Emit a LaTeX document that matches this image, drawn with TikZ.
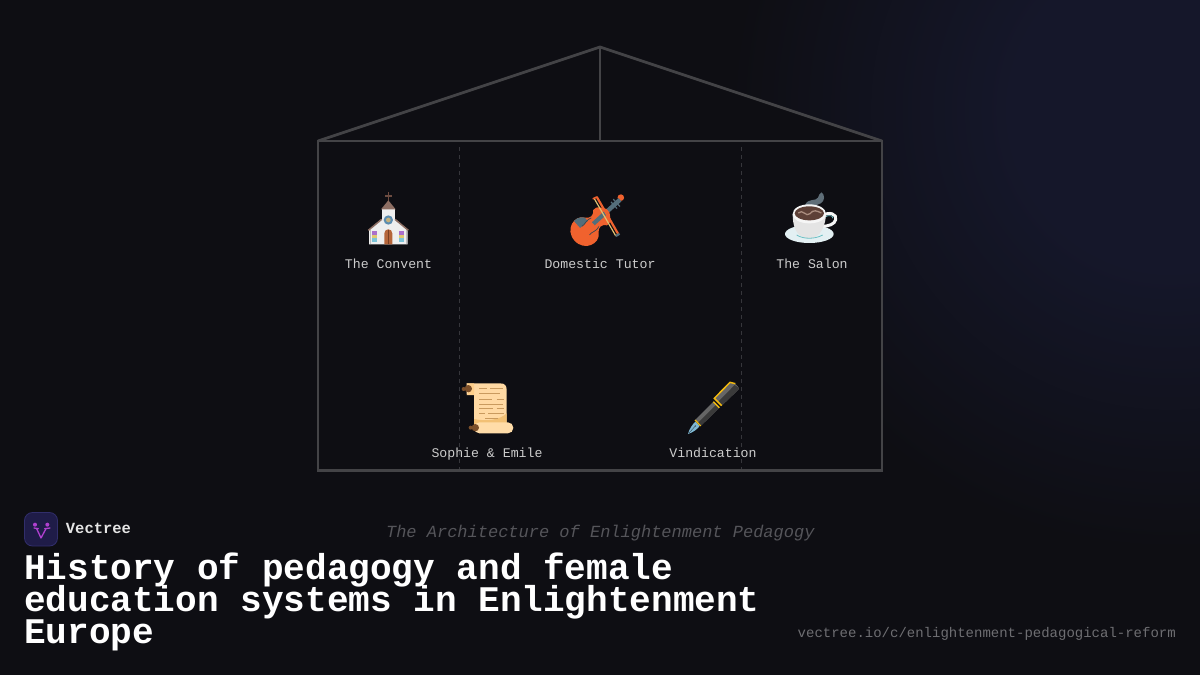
\documentclass[tikz,border=0pt]{standalone}
\usepackage{fontspec}
\setmainfont{Liberation Sans}
\setmonofont{Liberation Mono}
\definecolor{bgbase}{HTML}{0E0E13}
\definecolor{bgglow}{HTML}{15172A}
\definecolor{wallc}{HTML}{434346}
\definecolor{dashc}{HTML}{36363B}
\definecolor{labelc}{HTML}{CCCCCC}
\definecolor{brandc}{HTML}{E4E4E4}
\definecolor{subc}{HTML}{55555A}
\definecolor{urlc}{HTML}{6E6E72}
\definecolor{brownA}{HTML}{6D4C41}
\definecolor{brownB}{HTML}{8D6E63}
\definecolor{brownC}{HTML}{B5653A}
\definecolor{brownD}{HTML}{7B3F22}
\definecolor{brownE}{HTML}{7B4F2A}
\definecolor{whiteA}{HTML}{EEEEEE}
\definecolor{greyA}{HTML}{BDBDBD}
\definecolor{winBlue}{HTML}{5C8DB0}
\definecolor{winGold}{HTML}{C4B07C}
\definecolor{winPurple}{HTML}{AB6FCB}
\definecolor{winYellow}{HTML}{E0C96F}
\definecolor{winCyan}{HTML}{7CC4D8}
\definecolor{vOrange}{HTML}{F0622E}
\definecolor{vSlate}{HTML}{546E7A}
\definecolor{vDark}{HTML}{37474F}
\definecolor{vBow}{HTML}{E0C070}
\definecolor{steam}{HTML}{5F6E78}
\definecolor{saucer}{HTML}{E3F0F3}
\definecolor{cupA}{HTML}{E4E4E4}
\definecolor{cupB}{HTML}{F6F6F6}
\definecolor{coffee}{HTML}{5D4037}
\definecolor{crema}{HTML}{A98C7E}
\definecolor{teal}{HTML}{6FC0C4}
\definecolor{scrollA}{HTML}{FFD9A3}
\definecolor{scrollB}{HTML}{F2C074}
\definecolor{scrollC}{HTML}{FFCF8A}
\definecolor{scrollD}{HTML}{FFDCA8}
\definecolor{scrollLine}{HTML}{C99A5E}
\definecolor{penA}{HTML}{666666}
\definecolor{penB}{HTML}{3A3A3A}
\definecolor{penGold}{HTML}{F2B90F}
\definecolor{nib}{HTML}{7FB8D4}
\definecolor{logoFill}{HTML}{1F1C48}
\definecolor{logoEdge}{HTML}{312E6B}
\definecolor{logoMark}{HTML}{B040D0}
\pgfdeclareradialshading{glow}{\pgfpoint{0bp}{0bp}}{color(0bp)=(bgglow); color(9bp)=(bgglow); color(25bp)=(bgbase); color(50bp)=(bgbase)}
\tikzset{
  wall/.style={draw=wallc,line width=2.7pt,line join=miter},
  divider/.style={draw=dashc,line width=1pt,dash pattern=on 4pt off 4pt},
  zonelabel/.style={font=\fontsize{13.2}{13.2}\selectfont\ttfamily,text=labelc,inner sep=0pt,anchor=base},
  titleline/.style={font=\fontsize{36.05}{36}\selectfont\ttfamily\bfseries,text=white,inner sep=0pt,anchor=base west},
  icon/.style={x=.3333pt,y=-.3333pt},
}
\begin{document}
\begin{tikzpicture}[x=1pt,y=-1pt]
\useasboundingbox (0,0) rectangle (1200,675);
\fill[bgbase] (0,0) rectangle (1200,675);
\begin{scope}
\clip (0,0) rectangle (1200,675);
\shade[shading=glow] (1170,110) circle (440);
\end{scope}
% house
\coordinate (eaveL) at (318,141);
\coordinate (eaveR) at (882,141);
\coordinate (apex) at (600,47);
\coordinate (footL) at (318,470.5);
\coordinate (footR) at (882,470.5);
\coordinate (ridgeFoot) at (600,141);
\coordinate (d1t) at (459,147);
\coordinate (d1b) at (459,470);
\coordinate (d2t) at (741,147);
\coordinate (d2b) at (741,470);
\fill[bgbase] (eaveL) -- (apex) -- (eaveR) -- (footR) -- (footL) -- cycle;
\draw[divider] (d1t) -- (d1b);
\draw[divider] (d2t) -- (d2b);
\draw[wall] (eaveL) -- (apex) -- (eaveR);
\draw[wall] (apex) -- (ridgeFoot);
\draw[wall] (eaveL) -- (eaveR) -- (footR) -- (footL) -- cycle;
% church
\begin{scope}[shift={(355,185)},icon]
\fill[brownA] (98,20) rectangle (102,48);
\fill[brownA] (90,31) rectangle (110,35);
\fill[whiteA] (80,72) rectangle (120,178);
\fill[whiteA] (42,135) -- (80,102) -- (120,102) -- (158,135) -- (158,178) -- (42,178) -- cycle;
\fill[brownB] (100,46) -- (122,73) -- (78,73) -- cycle;
\draw[brownB,line width=1.5pt] (40,136) -- (80,103);
\draw[brownB,line width=1.5pt] (160,136) -- (120,103);
\draw[greyA,line width=.7pt] (45,178) -- (45,136);
\draw[greyA,line width=.7pt] (155,178) -- (155,136);
\fill[winBlue] (100,105) circle[radius=14];
\fill[winGold] (100,105) circle[radius=7];
\fill[brownC] (88,178) -- (88,145) .. controls (88,129) and (112,129) .. (112,145) -- (112,178) -- cycle;
\draw[brownD,line width=.5pt] (100,134) -- (100,178);
\foreach \wx in {52,133}{
  \fill[winPurple] (\wx,138) rectangle ++(14,12);
  \fill[winYellow] (\wx,150) rectangle ++(14,10);
  \fill[winCyan] (\wx,160) rectangle ++(14,12);
}
\end{scope}
% violin
\begin{scope}[shift={(592.5,224.5)},rotate=-48]
\fill[vOrange] (-1,-39) circle (3.3);
\fill[vSlate] (-2.2,-37) rectangle (2.2,-15);
\fill[vSlate] (-5,-33) rectangle (5,-31.8);
\fill[vSlate] (-4.5,-29.5) rectangle (4.5,-28.3);
\begin{scope}[scale=1.15]
\path[fill=vOrange] (-9,-9) .. controls (-10,-14) and (-5,-16) .. (-2,-18) -- (2,-18) .. controls (5,-16) and (10,-14) .. (9,-9)
 .. controls (5,-6) and (5,-2) .. (9,1) .. controls (17,6) and (13,21) .. (0,21) .. controls (-13,21) and (-17,6) .. (-9,1) .. controls (-5,-2) and (-5,-6) .. (-9,-9) -- cycle;
\begin{scope}
\clip (-9,1) .. controls (-17,6) and (-13,21) .. (0,21) -- (-5,12) -- (-5,1) -- cycle;
\fill[vSlate] (-18,0) rectangle (-5,10);
\end{scope}
\fill[vSlate] (-1.8,-16) rectangle (1.8,-1);
\draw[vDark,line width=.7pt] (-5,-3) .. controls (-7,1) and (-4,5) .. (-5,8);
\draw[vDark,line width=.7pt] (5,-3) .. controls (7,1) and (4,5) .. (5,8);
\end{scope}
\end{scope}
\coordinate (bowA) at (596.8,197);
\coordinate (bowB) at (618.5,234.5);
\coordinate (bowC) at (594.2,198.5);
\coordinate (bowD) at (615.8,236);
\draw[vOrange,line width=2.2pt] (bowA) -- (bowB);
\draw[vBow,line width=1.2pt] (bowC) -- (bowD);
\draw[vOrange,line width=1.7pt,line cap=round] (593.2,198.7) -- (bowA);
\draw[vSlate,line width=2.2pt] (bowD) -- (619.5,233.8);
% cup
\begin{scope}[shift={(780,185)},icon]
\fill[steam] (75,60) .. controls (85,38) and (108,50) .. (114,38) .. controls (116,30) and (118,28) .. (125,22) .. controls (135,30) and (135,48) .. (122,55) .. controls (105,64) and (85,68) .. (75,60) -- cycle;
\fill[saucer] (88,147) ellipse (73 and 27);
\draw[cupB,line width=3pt] (128,92) .. controls (148,78) and (172,88) .. (167,104) .. controls (164,118) and (145,124) .. (125,124);
\draw[teal,line width=.7pt] (135,96) .. controls (148,88) and (160,92) .. (158,100);
\fill[cupA] (38,87) .. controls (38,115) and (44,160) .. (88,160) .. controls (125,160) and (137,115) .. (138,87) -- cycle;
\fill[cupB] (38,87) .. controls (38,70) and (60,58) .. (88,58) .. controls (116,58) and (138,70) .. (138,87) .. controls (138,104) and (116,115) .. (88,115) .. controls (60,115) and (38,104) .. (38,87) -- cycle;
\fill[coffee] (88,85) ellipse (44 and 21);
\draw[crema,line width=1.3pt] (55,84) .. controls (68,70) and (78,98) .. (90,86) .. controls (100,72) and (112,78) .. (124,84);
\draw[teal,line width=.8pt] (50,150) .. controls (70,163) and (105,163) .. (128,150);
\end{scope}
% scroll
\begin{scope}[shift={(450,375)},icon]
\fill[scrollA] (50,25) -- (150,25) .. controls (165,25) and (170,32) .. (170,45) -- (170,150) -- (72,150) -- (72,58) -- (50,58) -- cycle;
\fill[scrollB] (72,132) .. controls (110,140) and (150,135) .. (170,115) -- (170,150) -- (72,150) -- cycle;
\fill[scrollC] (50,25) -- (72,25) -- (72,60) -- (50,60) .. controls (60,50) and (60,35) .. (50,25) -- cycle;
\fill[brownE] (55,41) circle[radius=11];
\fill[brownE] (41,42) circle[radius=6];
\fill[scrollD,rounded corners=5.4pt] (72,142) rectangle (190,175);
\fill[brownE] (76,158) circle[radius=11];
\fill[brownE] (62,158) circle[radius=6];
\foreach \ya/\xa/\xb in {40/88/110, 40/120/160, 56/88/150, 72/88/125, 72/140/162, 87/88/160, 100/88/130, 100/140/162, 116/88/105, 116/115/162, 130/105/145}
  \draw[scrollLine,line width=.9pt] (\xa,\ya) -- (\xb,\ya);
\end{scope}
% pen
\begin{scope}[shift={(680,375)},icon]
\fill[penA] (103,70) -- (150,22) .. controls (160,20) and (178,35) .. (177,42) -- (125,92) -- cycle;
\fill[penB] (114,81) -- (164,30) .. controls (170,35) and (178,38) .. (177,42) -- (125,92) -- cycle;
\fill[penA] (100,80) -- (118,98) -- (62,153) -- (45,135) -- cycle;
\fill[penB] (109,89) -- (118,98) -- (62,153) -- (53.5,144) -- cycle;
\draw[penGold,line width=1.5pt] (125,92) -- (103,70) -- (150,22) -- (166,26);
\draw[penGold,line width=1.3pt] (100,80) -- (118,98);
\draw[penGold,line width=1.3pt] (45,135) -- (62,153);
\fill[nib] (46,140) -- (59,153) .. controls (50,165) and (38,172) .. (24,177) .. controls (28,162) and (36,150) .. (46,140) -- cycle;
\draw[vDark,line width=.4pt] (28,173) -- (46,153);
\fill[vDark] (46,153) circle[radius=2];
\end{scope}
% labels
\node[zonelabel] (lConvent) at (388.5,268.5) {The Convent};
\node[zonelabel] (lTutor) at (600,268.5) {Domestic Tutor};
\node[zonelabel] (lSalon) at (812,268.5) {The Salon};
\node[zonelabel] (lSophie) at (487,457.5) {Sophie \& Emile};
\node[zonelabel] (lVind) at (713,457.5) {Vindication};
% logo
\fill[logoFill,draw=logoEdge,line width=.8pt,rounded corners=8pt] (24.5,512.5) rectangle (57.5,546);
\begin{scope}[shift={(20,508)},icon]
\draw[logoMark,line width=1.3pt,line join=round] (50,62) -- (63,90) -- (78,62);
\draw[logoMark,line width=1.3pt,line cap=round] (42,60) -- (55,62);
\draw[logoMark,line width=1.3pt,line cap=round] (74,62) -- (90,60);
\fill[logoMark] (45,50) circle[radius=6];
\fill[logoMark] (82,50) circle[radius=6];
\end{scope}
\node[inner sep=0pt,anchor=base west,text=brandc,font=\fontsize{15.5}{16}\selectfont\ttfamily\bfseries] (brand) at (65.7,533) {Vectree};
% caption and title
\node[inner sep=0pt,text=subc,font=\fontsize{17}{17}\selectfont\ttfamily\itshape] (sub) at (600.3,533.3) {The Architecture of Enlightenment Pedagogy};
\node[titleline] (t1) at (24,579) {History of pedagogy and female};
\node[titleline] (t2) at (24,611.4) {education systems in Enlightenment};
\node[titleline] (t3) at (24,643.8) {Europe};
\node[inner sep=0pt,anchor=base east,text=urlc,font=\fontsize{14}{14}\selectfont\ttfamily] (url) at (1176,637) {vectree.io/c/enlightenment-pedagogical-reform};
\end{tikzpicture}
\end{document}
